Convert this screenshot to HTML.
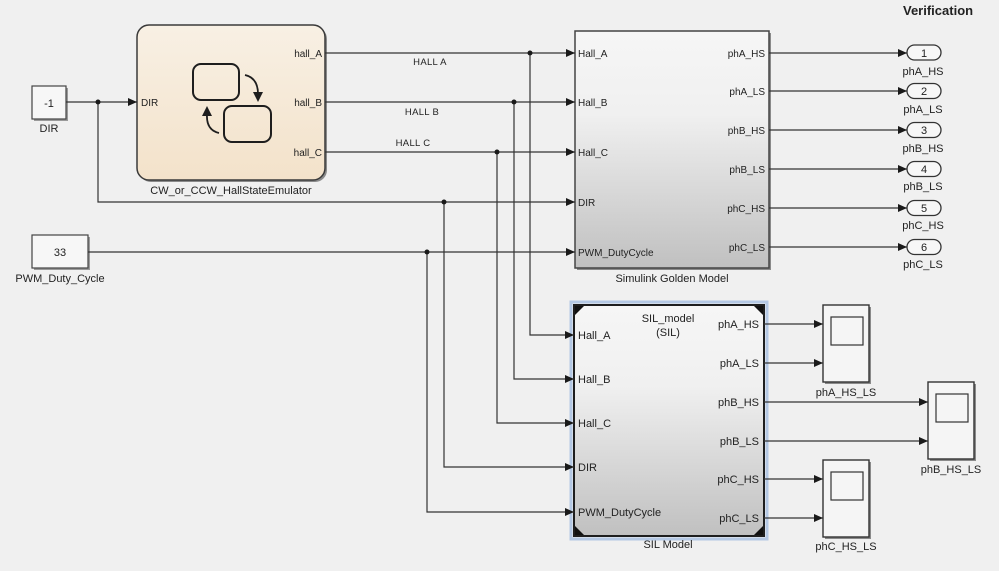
<!DOCTYPE html>
<html><head><meta charset="utf-8"><style>
html,body{margin:0;padding:0;background:#f0f0f0;}
svg{display:block;}
text{font-family:"Liberation Sans",Arial,sans-serif;fill:#222;}
</style></head><body>
<svg width="999" height="571" viewBox="0 0 999 571" xmlns="http://www.w3.org/2000/svg">
<defs>
<marker id="ar" markerUnits="userSpaceOnUse" markerWidth="10" markerHeight="8" refX="9" refY="4" orient="auto">
<path d="M0,0 L9,4 L0,8 z" fill="#1a1a1a"/>
</marker>
<linearGradient id="gg" x1="0" y1="0" x2="0" y2="1">
<stop offset="0" stop-color="#f6f6f6"/><stop offset="0.35" stop-color="#f0f0f0"/><stop offset="1" stop-color="#c0c0c0"/>
</linearGradient>
<linearGradient id="cg" x1="0" y1="0" x2="0" y2="1">
<stop offset="0" stop-color="#f8f0e4"/><stop offset="1" stop-color="#f3e2ca"/>
</linearGradient>
</defs>
<rect width="999" height="571" fill="#f0f0f0"/>

<text x="903" y="15" font-size="13" font-weight="bold">Verification</text>

<!-- DIR constant -->
<rect x="34" y="88" width="34" height="33" fill="#9a9a9a"/>
<rect x="32" y="86" width="34" height="33" fill="#f7f7f7" stroke="#444" stroke-width="1.2"/>
<text x="49" y="107" font-size="11" text-anchor="middle">-1</text>
<text x="49" y="132" font-size="11" text-anchor="middle">DIR</text>

<!-- PWM constant -->
<rect x="34" y="237" width="56" height="33" fill="#9a9a9a"/>
<rect x="32" y="235" width="56" height="33" fill="#f7f7f7" stroke="#444" stroke-width="1.2"/>
<text x="60" y="256" font-size="11" text-anchor="middle">33</text>
<text x="60" y="282" font-size="11" text-anchor="middle">PWM_Duty_Cycle</text>

<!-- Chart -->
<rect x="139" y="27" width="188" height="155" rx="12" fill="#8a8a8a"/>
<rect x="137" y="25" width="188" height="155" rx="12" fill="url(#cg)" stroke="#3a3a3a" stroke-width="1.5"/>
<rect x="193" y="64" width="46" height="36" rx="8" fill="none" stroke="#1e1e1e" stroke-width="2"/>
<rect x="224" y="106" width="47" height="36" rx="8" fill="none" stroke="#1e1e1e" stroke-width="2"/>
<path d="M245,75 Q258,78 258,94" fill="none" stroke="#1e1e1e" stroke-width="1.8"/>
<path d="M253,92 L258,102 L263,92 z" fill="#1e1e1e"/>
<path d="M219,133 Q206,130 207,114" fill="none" stroke="#1e1e1e" stroke-width="1.8"/>
<path d="M202,116 L207,106 L212,116 z" fill="#1e1e1e"/>
<text x="141" y="106" font-size="10">DIR</text>
<text x="322" y="57" font-size="10" text-anchor="end">hall_A</text>
<text x="322" y="106" font-size="10" text-anchor="end">hall_B</text>
<text x="322" y="156" font-size="10" text-anchor="end">hall_C</text>
<text x="231" y="194" font-size="11" text-anchor="middle">CW_or_CCW_HallStateEmulator</text>

<!-- Golden model -->
<rect x="577" y="33" width="194" height="237" fill="#8a8a8a"/>
<rect x="575" y="31" width="194" height="237" fill="url(#gg)" stroke="#444" stroke-width="1.5"/>
<g font-size="10">
<text x="578" y="57">Hall_A</text>
<text x="578" y="106">Hall_B</text>
<text x="578" y="156">Hall_C</text>
<text x="578" y="206">DIR</text>
<text x="578" y="256">PWM_DutyCycle</text>
<text x="765" y="57" text-anchor="end">phA_HS</text>
<text x="765" y="95" text-anchor="end">phA_LS</text>
<text x="765" y="134" text-anchor="end">phB_HS</text>
<text x="765" y="173" text-anchor="end">phB_LS</text>
<text x="765" y="212" text-anchor="end">phC_HS</text>
<text x="765" y="251" text-anchor="end">phC_LS</text>
</g>
<text x="672" y="282" font-size="11" text-anchor="middle">Simulink Golden Model</text>

<!-- SIL model -->
<rect x="571" y="302" width="196" height="237" fill="none" stroke="#b4c8e4" stroke-width="3"/>
<rect x="574" y="305" width="190" height="231" fill="url(#gg)" stroke="#1e1e1e" stroke-width="2"/>
<path d="M575,306 L584,306 L575,315 z" fill="#111"/>
<path d="M763,306 L754,306 L763,315 z" fill="#111"/>
<path d="M575,535 L584,535 L575,526 z" fill="#111"/>
<path d="M763,535 L754,535 L763,526 z" fill="#111"/>
<g font-size="11">
<text x="668" y="322" text-anchor="middle">SIL_model</text>
<text x="668" y="336" text-anchor="middle">(SIL)</text>
<text x="578" y="339">Hall_A</text>
<text x="578" y="383">Hall_B</text>
<text x="578" y="427">Hall_C</text>
<text x="578" y="471">DIR</text>
<text x="578" y="516">PWM_DutyCycle</text>
<text x="759" y="328" text-anchor="end">phA_HS</text>
<text x="759" y="367" text-anchor="end">phA_LS</text>
<text x="759" y="406" text-anchor="end">phB_HS</text>
<text x="759" y="445" text-anchor="end">phB_LS</text>
<text x="759" y="483" text-anchor="end">phC_HS</text>
<text x="759" y="522" text-anchor="end">phC_LS</text>
<text x="668" y="548" text-anchor="middle">SIL Model</text>
</g>

<!-- Lines -->
<g fill="none" stroke="#333" stroke-width="1.2">
<path d="M66,102 H137" marker-end="url(#ar)"/>
<path d="M98,102 V202 H575" marker-end="url(#ar)"/>
<path d="M444,202 V467 H574" marker-end="url(#ar)"/>
<path d="M325,53 H575" marker-end="url(#ar)"/>
<path d="M530,53 V335 H574" marker-end="url(#ar)"/>
<path d="M325,102 H575" marker-end="url(#ar)"/>
<path d="M514,102 V379 H574" marker-end="url(#ar)"/>
<path d="M325,152 H575" marker-end="url(#ar)"/>
<path d="M497,152 V423 H574" marker-end="url(#ar)"/>
<path d="M88,252 H575" marker-end="url(#ar)"/>
<path d="M427,252 V512 H574" marker-end="url(#ar)"/>
<path d="M769,53 H907" marker-end="url(#ar)"/>
<path d="M769,91 H907" marker-end="url(#ar)"/>
<path d="M769,130 H907" marker-end="url(#ar)"/>
<path d="M769,169 H907" marker-end="url(#ar)"/>
<path d="M769,208 H907" marker-end="url(#ar)"/>
<path d="M769,247 H907" marker-end="url(#ar)"/>
<path d="M764,324 H823" marker-end="url(#ar)"/>
<path d="M764,363 H823" marker-end="url(#ar)"/>
<path d="M764,402 H928" marker-end="url(#ar)"/>
<path d="M764,441 H928" marker-end="url(#ar)"/>
<path d="M764,479 H823" marker-end="url(#ar)"/>
<path d="M764,518 H823" marker-end="url(#ar)"/>
</g>
<g fill="#1a1a1a">
<circle cx="98" cy="102" r="2.5"/>
<circle cx="530" cy="53" r="2.5"/>
<circle cx="514" cy="102" r="2.5"/>
<circle cx="497" cy="152" r="2.5"/>
<circle cx="444" cy="202" r="2.5"/>
<circle cx="427" cy="252" r="2.5"/>
</g>
<g font-size="9.5" letter-spacing="0.3">
<text x="430" y="65" text-anchor="middle">HALL A</text>
<text x="422" y="115" text-anchor="middle">HALL B</text>
<text x="413" y="146" text-anchor="middle">HALL C</text>
</g>

<!-- Outports -->
<g font-size="11" text-anchor="middle">
<rect x="907" y="45" width="34" height="15" rx="7.5" fill="#f7f7f7" stroke="#333" stroke-width="1.3"/>
<text x="924" y="57">1</text><text x="923" y="75">phA_HS</text>
<rect x="907" y="83.5" width="34" height="15" rx="7.5" fill="#f7f7f7" stroke="#333" stroke-width="1.3"/>
<text x="924" y="95">2</text><text x="923" y="113">phA_LS</text>
<rect x="907" y="122.5" width="34" height="15" rx="7.5" fill="#f7f7f7" stroke="#333" stroke-width="1.3"/>
<text x="924" y="134">3</text><text x="923" y="152">phB_HS</text>
<rect x="907" y="161.5" width="34" height="15" rx="7.5" fill="#f7f7f7" stroke="#333" stroke-width="1.3"/>
<text x="924" y="173">4</text><text x="923" y="190">phB_LS</text>
<rect x="907" y="200.5" width="34" height="15" rx="7.5" fill="#f7f7f7" stroke="#333" stroke-width="1.3"/>
<text x="924" y="212">5</text><text x="923" y="229">phC_HS</text>
<rect x="907" y="239.5" width="34" height="15" rx="7.5" fill="#f7f7f7" stroke="#333" stroke-width="1.3"/>
<text x="924" y="251">6</text><text x="923" y="268">phC_LS</text>
</g>

<!-- Scopes -->
<g>
<rect x="825" y="307" width="46" height="77" fill="#8a8a8a"/>
<rect x="823" y="305" width="46" height="77" fill="#f5f5f5" stroke="#333" stroke-width="1.4"/>
<rect x="831" y="317" width="32" height="28" fill="#f5f5f5" stroke="#333" stroke-width="1.2"/>
<text x="846" y="396" font-size="11" text-anchor="middle">phA_HS_LS</text>

<rect x="930" y="384" width="46" height="77" fill="#8a8a8a"/>
<rect x="928" y="382" width="46" height="77" fill="#f5f5f5" stroke="#333" stroke-width="1.4"/>
<rect x="936" y="394" width="32" height="28" fill="#f5f5f5" stroke="#333" stroke-width="1.2"/>
<text x="951" y="473" font-size="11" text-anchor="middle">phB_HS_LS</text>

<rect x="825" y="462" width="46" height="77" fill="#8a8a8a"/>
<rect x="823" y="460" width="46" height="77" fill="#f5f5f5" stroke="#333" stroke-width="1.4"/>
<rect x="831" y="472" width="32" height="28" fill="#f5f5f5" stroke="#333" stroke-width="1.2"/>
<text x="846" y="550" font-size="11" text-anchor="middle">phC_HS_LS</text>
</g>
</svg>
</body></html>
